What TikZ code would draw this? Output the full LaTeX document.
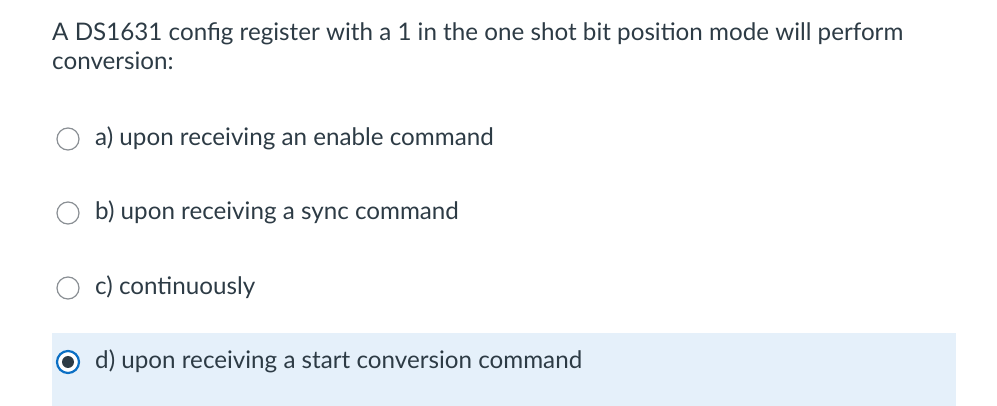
\documentclass[tikz,border=0pt]{standalone}
\usepackage{fontspec}
\setmainfont{Lato}
\definecolor{txt}{HTML}{2D3B45}
\definecolor{hl}{HTML}{E5F0FA}
\definecolor{ring}{HTML}{8A8F94}
\definecolor{sel}{HTML}{0B6FC4}
\begin{document}
\begin{tikzpicture}[x=1pt,y=-1pt,
  lbl/.style={anchor=base west,inner sep=0pt,text=txt,font=\fontsize{24.2}{28}\selectfont},
  radio/.style={circle,draw=ring,line width=1.2pt,minimum size=22pt,inner sep=0pt,fill=white}]
\useasboundingbox (0,0) rectangle (997,406);
\fill[hl] (52,333) rectangle (956,406);
\node[lbl] (q1) at (52,41) {A DS1631 config register with a 1 in the one shot bit position mode will perform};
\node[lbl] (q2) at (52,70) {conversion:};
\node[radio] (ra) at (68,139) {};
\node[lbl] (ta) at (95,146) {a) upon receiving an enable command};
\node[radio] (rb) at (68,213) {};
\node[lbl] (tb) at (95,220) {b) upon receiving a sync command};
\node[radio] (rc) at (68,288) {};
\node[lbl] (tc) at (95,295) {c) continuously};
\node[radio,draw=sel,line width=2.2pt] (rd) at (68,362) {};
\fill[txt] (rd.center) circle (6);
\node[lbl] (td) at (95,369) {d) upon receiving a start conversion command};
\end{tikzpicture}
\end{document}
